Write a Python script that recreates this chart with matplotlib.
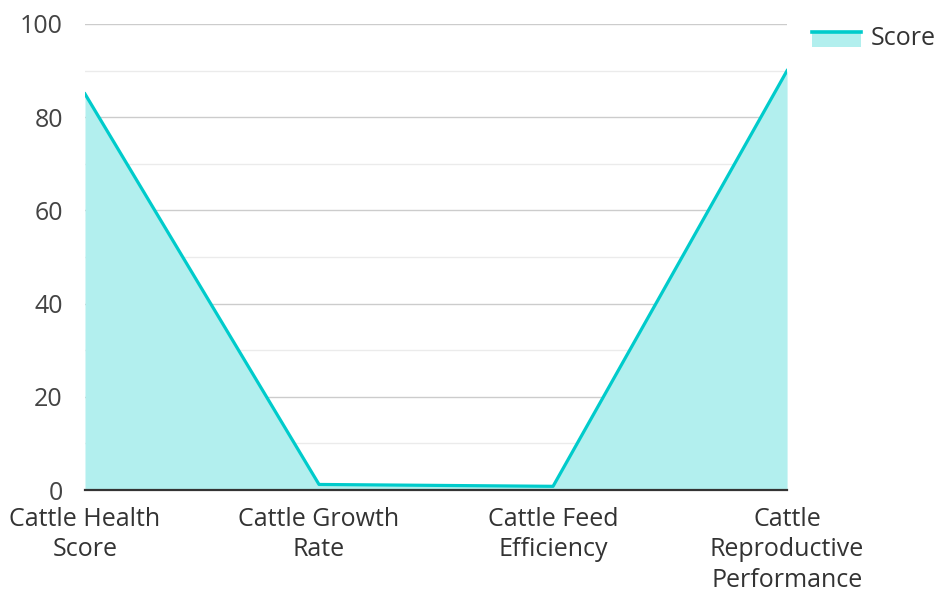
import matplotlib.pyplot as plt
from matplotlib.patches import Rectangle
from matplotlib.lines import Line2D
from matplotlib.legend_handler import HandlerBase
import numpy as np

plt.rcParams['font.family'] = ['Open Sans', 'DejaVu Sans']

categories = ["Cattle Health\nScore", "Cattle Growth\nRate", "Cattle Feed\nEfficiency",
              "Cattle\nReproductive\nPerformance"]
scores = [85, 1.2, 0.8, 90]

line_color = "#00CBCB"
fill_color = "#B2EFEE"


class AreaHandler(HandlerBase):
    # line sitting on top of a filled swatch, like the reference legend
    def create_artists(self, legend, orig_handle, xdescent, ydescent,
                       width, height, fontsize, trans):
        top = height * 0.75
        rect = Rectangle((-xdescent, -ydescent - height * 0.1), width, top + height * 0.1,
                         facecolor=fill_color, edgecolor="none", transform=trans)
        line = Line2D([-xdescent, -xdescent + width], [top - ydescent, top - ydescent],
                      color=line_color, linewidth=2.6, transform=trans)
        return [rect, line]


fig = plt.figure(figsize=(9.37, 5.94), dpi=100)
ax = fig.add_axes([0.0907, 0.175, 0.7493, 0.7846])

x = np.arange(len(categories))
ax.fill_between(x, scores, 0, color=fill_color, linewidth=0, zorder=2)
ax.plot(x, scores, color=line_color, linewidth=2.3, zorder=3)

ax.set_xlim(0, len(categories) - 1)
ax.set_ylim(0, 100)
ax.set_xticks(x)
ax.set_xticklabels(categories, fontsize=18, color="#333333", linespacing=1.3)
ax.set_yticks(np.arange(0, 101, 20))
ax.set_yticks(np.arange(10, 100, 20), minor=True)
ax.tick_params(axis="y", labelsize=18, labelcolor="#444444", length=0, pad=16)
ax.tick_params(axis="x", length=0, pad=12)
ax.tick_params(which="minor", length=0)

ax.grid(axis="y", which="major", color="#cccccc", linewidth=1.0, zorder=1)
ax.grid(axis="y", which="minor", color="#ebebeb", linewidth=1.0, zorder=1)
for s in ["top", "right", "left"]:
    ax.spines[s].set_visible(False)
ax.spines["bottom"].set_color("#333333")
ax.spines["bottom"].set_linewidth(1.6)
ax.spines["bottom"].set_zorder(4)

fig.legend([object()], ["Score"], handler_map={object: AreaHandler()},
           loc="upper right", bbox_to_anchor=(1.023, 0.994),
           frameon=False, fontsize=18, handlelength=1.95, handletextpad=0.4,
           labelcolor="#333333")

fig.savefig("out.png", dpi=100)
